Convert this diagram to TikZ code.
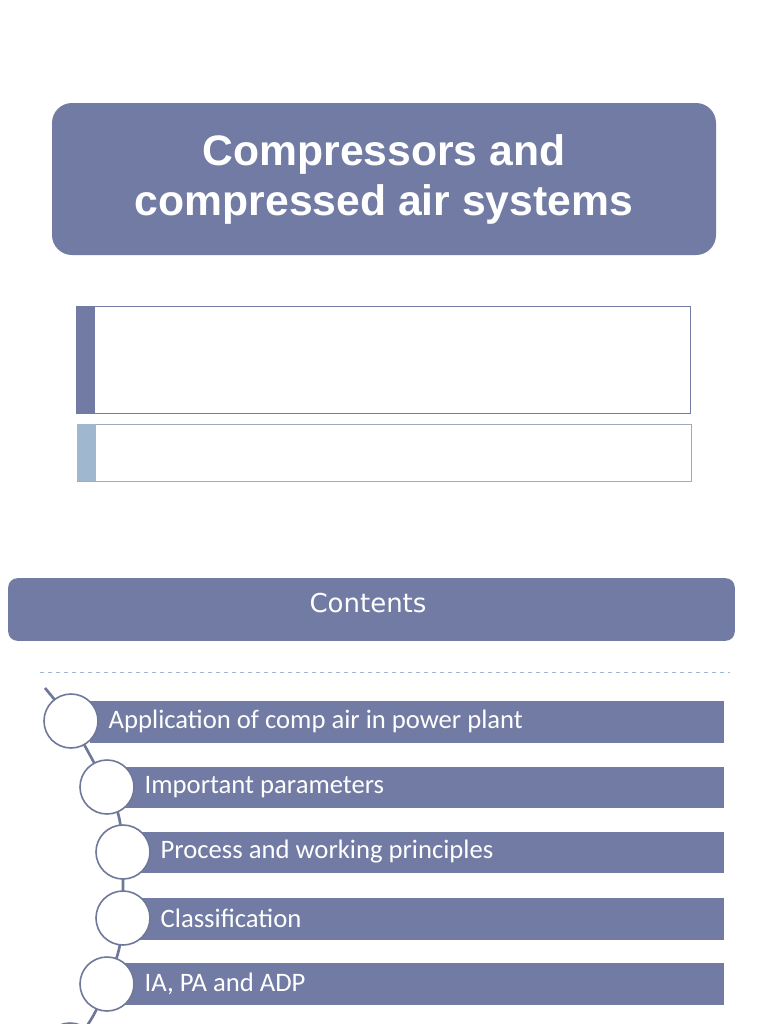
\documentclass[tikz,border=0pt]{standalone}
\usepackage{fontspec}
\setmainfont{Liberation Sans}
\newfontfamily\dvs{DejaVu Sans}
\newfontfamily\gill{Carlito}
\definecolor{slate}{HTML}{717BA3}
\definecolor{lightbar}{HTML}{A0B8CF}
\definecolor{dashcol}{HTML}{9DB8D6}
\definecolor{ring}{HTML}{6F7899}
\tikzset{
 bar/.style={fill=slate,draw=none},
 bartext/.style={text=white,font=\gill\fontsize{20}{24}\selectfont,anchor=west},
 bub/.style={circle,draw=ring,line width=1.2pt,fill=white,minimum size=40.5pt,inner sep=0pt},
}
\begin{document}
\begin{tikzpicture}[x=0.75pt,y=-0.75pt]
\useasboundingbox (0,0) rectangle (768,1024);
\fill[white] (0,0) rectangle (768,1024);
\node[fill=slate,rounded corners=15pt,minimum width=498pt,minimum height=114pt,inner sep=0pt,
  text=white,font=\bfseries\fontsize{32}{37.5}\selectfont,align=center] (title) at (384,179)
  {Compressors and\\compressed air systems};
\node[draw=slate,line width=0.5pt,minimum width=460.5pt,minimum height=80pt,inner sep=0pt] (sub1) at (383,360) {};
\fill[slate] (76,306) rectangle (95,413);
\node[draw=lightbar!80!gray,line width=0.5pt,minimum width=460.5pt,minimum height=43pt,inner sep=0pt] (sub2) at (384,452.5) {};
\fill[lightbar] (77,424) rectangle (96,481);
\node[fill=slate,rounded corners=7pt,minimum width=545pt,minimum height=47pt,inner sep=0pt] (contents) at (371.5,609.5) {};
\node[text=white,font=\dvs\fontsize{19.5}{23}\selectfont] (ctext) at (368,603) {Contents};
\coordinate (d1) at (40,672); \coordinate (d2) at (730,672);
\draw[dashcol,dashed,line width=0.6pt] (d1) -- (d2);
\fill[bar] (90,701) rectangle (724,743);
\fill[bar] (125,767) rectangle (724,808);
\fill[bar] (140,832) rectangle (724,873);
\fill[bar] (140,898) rectangle (724,940);
\fill[bar] (125,963) rectangle (724,1005);
\coordinate (s) at (45,688);
\coordinate (c1) at (71,721); \coordinate (c2) at (107,787); \coordinate (c3) at (123,852);
\coordinate (c4) at (123,918); \coordinate (c5) at (107,984); \coordinate (c6) at (70,1050);
\draw[ring,line width=2pt] (s) .. controls (55,700) .. (c1) .. controls (90,755) .. (c2)
  .. controls (120,815) .. (c3) -- (c4) .. controls (120,950) .. (c5) .. controls (95,1015) .. (c6);
\node[bub] (b1) at (c1) {};
\node[bub] (b2) at (c2) {};
\node[bub] (b3) at (c3) {};
\node[bub] (b4) at (c4) {};
\node[bub] (b5) at (c5) {};
\node[bub] (b6) at (c6) {};
\node[bartext] (t1) at (104,721) {Application of comp air in power plant};
\node[bartext] (t2) at (140,787) {Important parameters};
\node[bartext] (t3) at (156,852) {Process and working principles};
\node[bartext] (t4) at (156,918) {Classification};
\node[bartext] (t5) at (140,984) {IA, PA and ADP};
\end{tikzpicture}
\end{document}
